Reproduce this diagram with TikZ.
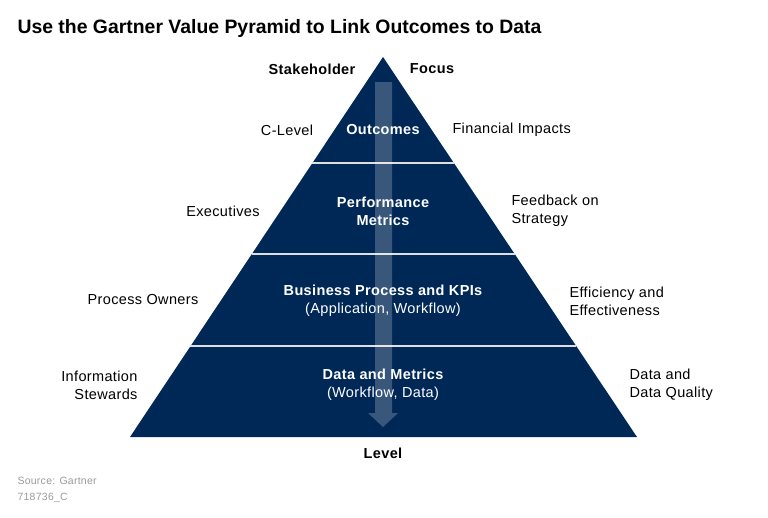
\documentclass[tikz,border=0pt]{standalone}
\usepackage{fontspec}
\setmainfont{Liberation Sans}[LetterSpace=2.5]
\newfontfamily\titlefont{Liberation Sans}
\definecolor{navy}{HTML}{002856}
\definecolor{srcgray}{HTML}{9A9A9A}

\begin{document}
\begin{tikzpicture}[x=1pt,y=-1pt,
  side/.style={font=\fontsize{14.5}{18}\selectfont},
  tier/.style={font=\fontsize{14.5}{18}\selectfont,text=white,align=center},
  head/.style={font=\fontsize{14.5}{18}\selectfont\bfseries}]
\useasboundingbox (0,0) rectangle (768,517);
% title
\node[anchor=west,font=\titlefont\fontsize{19.4}{22}\selectfont\bfseries] (title) at (14,28) {Use the Gartner Value Pyramid to Link Outcomes to Data};
% pyramid
\fill[navy] (383,57) -- (637,437) -- (130,437) -- cycle;
\draw[gray!25,line width=1.5pt] (312,163) -- (454,163);
\draw[gray!25,line width=1.5pt] (252,254) -- (515,254);
\draw[gray!25,line width=1.5pt] (190,346) -- (576,346);
% arrow
\fill[white,opacity=0.22] (375,82) -- (392,82) -- (392,413) -- (398,413) -- (383,427) -- (368,413) -- (375,413) -- cycle;
% headers
\node[head] (stake) at (312,69) {Stakeholder};
\node[head] (focus) at (432,69) {Focus};
\node[head] (level) at (383,453) {Level};
% tiers
\node[tier] (outc) at (383,130) {\bfseries Outcomes};
\node[tier] (perf) at (383,211) {\bfseries Performance\\\bfseries Metrics};
\node[tier] (bus) at (383,301) {\bfseries Business Process and KPIs\\(Application, Workflow)};
\node[tier] (dat) at (383,385) {\bfseries Data and Metrics\\(Workflow, Data)};
% stakeholders
\node[side] (clev) at (287,130) {C-Level};
\node[side] (exec) at (223,211) {Executives};
\node[side] (proc) at (143,300) {Process Owners};
\node[side,align=right,anchor=east] (info) at (141,385) {Information\\Stewards};
% focus
\node[side,anchor=west] (fin) at (449,130) {Financial Impacts};
\node[side,align=left,anchor=west] (feed) at (508,211) {Feedback on\\Strategy};
\node[side,align=left,anchor=west] (eff) at (566,301) {Efficiency and\\Effectiveness};
\node[side,align=left,anchor=west] (dq) at (626,385) {Data and\\Data Quality};
% source
\node[anchor=west,text=srcgray,font=\fontsize{10.5}{12}\selectfont] (src) at (14,481) {Source: Gartner};
\node[anchor=west,text=srcgray,font=\fontsize{10.5}{12}\selectfont] (code) at (14,498) {718736\_C};
\end{tikzpicture}
\end{document}
